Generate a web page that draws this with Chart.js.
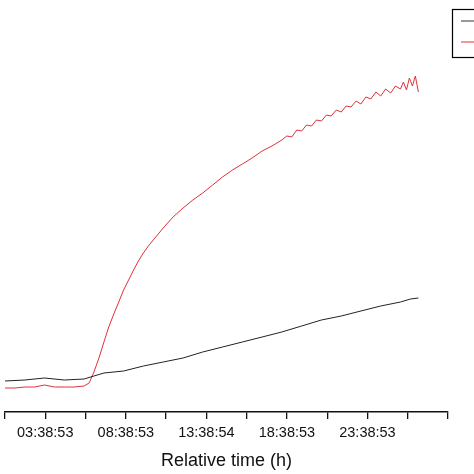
<!DOCTYPE html>
<html><head><meta charset="utf-8">
<script src="https://cdn.jsdelivr.net/npm/chart.js@4"></script>
<style>html,body{margin:0;padding:0;background:#fff}#w{width:474px;height:474px}</style>
</head><body><div id="w"><canvas id="c"></canvas></div>
<script>
const tickHours=[1.148,3.648,6.148,8.648,11.148,13.648,16.148,18.648,21.148,23.648,26.148,28.648];
const tickLabels=['','03:38:53','','08:38:53','','13:38:54','','18:38:53','','23:38:53','',''];
const redTime=[1.15,1.76,2.38,2.99,3.60,4.22,4.83,5.44,6.06,6.37,6.67,6.98,7.29,7.59,7.90,8.21,8.51,8.82,9.13,9.43,9.74,10.05,10.35,10.97,11.58,12.20,12.81,13.42,14.04,14.65,15.27,15.88,16.49,17.11,17.72,18.33,18.64,18.95,19.26,19.56,19.87,20.18,20.48,20.79,21.10,21.40,21.71,22.02,22.32,22.63,22.94,23.24,23.55,23.86,24.17,24.47,24.78,25.09,25.39,25.70,25.88,26.07,26.25,26.44,26.62,26.81];
const redValue=[86,86,87,87,89,87,87,87,88,91,102,116,132,147,160,172,184,194,204,213,221,228,234,246,257,266,274,281,289,297,304,310,316,323,328,334,338,337,344,343,349,348,354,353,359,358,364,362,368,367,373,370,377,375,382,378,385,381,388,385,392,384,396,388,398,382];
const blackTime=[1.15,2.38,3.60,4.83,6.06,6.67,7.29,8.51,9.74,10.97,12.20,13.42,14.65,15.88,17.11,18.33,19.56,20.79,22.02,23.24,24.47,25.70,26.32,26.81];
const blackValue=[93,94,96,94,95,98,101,103,108,112,116,122,127,132,137,142,148,154,158,163,168,172,175,176];
const legendBox={id:'lg',afterDraw(ch){const c=ch.ctx;c.save();c.strokeStyle='#000';c.lineWidth=1.2;c.strokeRect(452.5,9.5,40,48);
c.lineWidth=1;c.strokeStyle='#333';c.beginPath();c.moveTo(461,21);c.lineTo(474,21);c.stroke();
c.strokeStyle='#e0303a';c.beginPath();c.moveTo(461,42);c.lineTo(474,42);c.stroke();c.restore();}};
new Chart(document.getElementById('c'),{type:'line',
data:{datasets:[
{data:blackTime.map((t,i)=>({x:t,y:blackValue[i]})),borderColor:'#222',borderWidth:1,pointRadius:0,tension:0},
{data:redTime.map((t,i)=>({x:t,y:redValue[i]})),borderColor:'#e0303a',borderWidth:1,pointRadius:0,tension:0}]},
options:{animation:false,responsive:true,maintainAspectRatio:false,
layout:{padding:{left:0,right:26,top:0,bottom:0}},
plugins:{legend:{display:false},tooltip:{enabled:false}},
scales:{
x:{type:'linear',min:1.148,max:28.648,
afterBuildTicks(a){a.ticks=tickHours.map(v=>({value:v}));},
ticks:{autoSkip:false,maxRotation:0,color:'#111',font:{family:'Liberation Sans',size:14.5},padding:5,callback:(v,i)=>tickLabels[i]},
grid:{drawOnChartArea:false,tickLength:7,color:'#111',lineWidth:1.3},
border:{color:'#111',width:1.5},
title:{display:true,text:'Relative time (h)',color:'#111',font:{family:'Liberation Sans',size:18},padding:{top:4,bottom:2}}},
y:{display:false,min:62,max:474}}},
plugins:[legendBox]});
</script></body></html>
